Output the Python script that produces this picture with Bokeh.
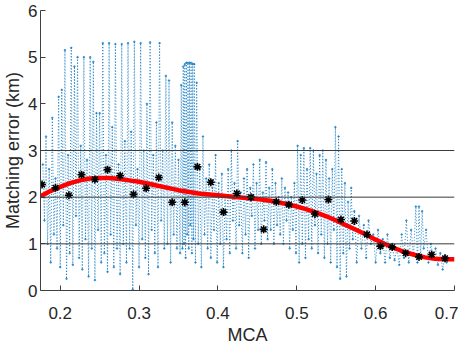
from bokeh.plotting import figure
from bokeh.models import Range1d, FixedTicker, Span
from bokeh.embed import file_html
from bokeh.resources import INLINE

# ---- blue dotted raw series (MCA, matching error) ----
mca_a = [0.178, 0.180, 0.182, 0.184, 0.186, 0.188, 0.190, 0.192, 0.194, 0.196,
         0.198, 0.200, 0.202, 0.204, 0.206, 0.208, 0.210, 0.212, 0.214, 0.216,
         0.218, 0.220, 0.222, 0.224, 0.226, 0.228, 0.230, 0.232, 0.234, 0.236,
         0.238, 0.240, 0.242, 0.244, 0.246, 0.248, 0.250, 0.252, 0.254, 0.256,
         0.258, 0.260, 0.262, 0.264, 0.266, 0.268, 0.270, 0.272, 0.274, 0.276,
         0.278, 0.280, 0.282, 0.284, 0.286, 0.288, 0.290, 0.292, 0.294, 0.296,
         0.298, 0.300, 0.302, 0.304, 0.306, 0.308, 0.310, 0.312, 0.314, 0.316,
         0.318, 0.320, 0.322, 0.324, 0.326, 0.328, 0.330, 0.332, 0.334, 0.336,
         0.338, 0.340, 0.342, 0.344, 0.346, 0.348]
err_a = [2.7, 1.5, 3.3, 1.0, 2.6, 0.6, 3.7, 1.2, 2.4, 0.9,
         4.15, 0.5, 4.3, 1.4, 5.15, 0.25, 2.9, 0.8, 5.2, 0.55,
         4.8, 1.6, 5.0, 0.7, 3.1, 0.45, 5.0, 1.1, 2.8, 0.3,
         5.0, 0.9, 4.9, 0.22, 3.8, 1.3, 3.8, 0.6, 5.3, 0.8,
         2.9, 0.4, 5.3, 1.2, 3.5, 0.5, 5.28, 0.9, 2.7, 0.35,
         5.28, 1.0, 3.2, 0.6, 5.3, 0.9, 3.4, 0.02, 5.33, 1.4,
         2.6, 0.5, 5.3, 1.1, 3.0, 0.7, 4.0, 0.35, 5.32, 1.3,
         2.9, 0.8, 3.6, 0.5, 5.3, 1.5, 3.0, 0.9, 4.6, 1.0,
         4.5, 0.6, 3.6, 1.2, 3.1, 0.9]

mca_b = [0.350, 0.352, 0.3535, 0.355, 0.356, 0.357, 0.358, 0.359, 0.360, 0.361,
         0.362, 0.363, 0.364, 0.365, 0.366, 0.367, 0.368, 0.369, 0.370, 0.3715,
         0.373, 0.375, 0.377, 0.379, 0.381, 0.383, 0.385, 0.387, 0.389, 0.391,
         0.393, 0.395, 0.397, 0.399, 0.401, 0.403, 0.405, 0.407, 0.409, 0.411,
         0.413, 0.415, 0.417, 0.419, 0.421, 0.423, 0.425, 0.427, 0.429, 0.431,
         0.433, 0.435, 0.437, 0.439, 0.441, 0.443, 0.445, 0.447, 0.449, 0.451,
         0.453, 0.455, 0.457, 0.459, 0.461, 0.463, 0.465, 0.467, 0.469, 0.471,
         0.473, 0.475, 0.477, 0.479, 0.481, 0.483, 0.485, 0.487, 0.489, 0.491,
         0.493, 0.495, 0.497, 0.499, 0.501, 0.503, 0.505, 0.507, 0.509, 0.511,
         0.513, 0.515, 0.517, 0.519, 0.521, 0.523, 0.525, 0.527, 0.529, 0.531,
         0.533, 0.535, 0.537, 0.539, 0.541, 0.543, 0.545, 0.547, 0.549]
err_b = [2.8, 0.8, 4.4, 0.9, 4.8, 1.0, 4.85, 0.7, 4.88, 1.2,
         4.88, 0.9, 4.88, 1.4, 4.88, 0.8, 4.86, 1.1, 4.85, 0.6,
         4.45, 1.0, 2.6, 0.5, 3.3, 1.2, 2.4, 0.9, 2.7, 0.7,
         2.2, 1.3, 2.9, 0.6, 2.3, 1.0, 2.5, 0.5, 2.0, 1.1,
         2.6, 0.8, 3.0, 1.5, 2.3, 0.9, 3.2, 1.4, 2.1, 0.8,
         2.4, 1.2, 2.6, 0.7, 2.2, 1.6, 2.7, 0.9, 2.3, 1.3,
         2.8, 1.0, 2.1, 1.5, 2.75, 1.1, 2.2, 1.3, 2.6, 1.0,
         2.3, 1.4, 2.0, 1.2, 2.4, 1.0, 2.2, 1.5, 2.1, 0.9,
         2.0, 1.3, 2.3, 0.8, 3.1, 0.6, 2.9, 1.0, 3.05, 0.7,
         2.6, 1.1, 3.05, 0.9, 3.0, 1.4, 2.5, 0.8, 2.9, 1.2,
         3.0, 0.7, 2.8, 1.0, 2.4, 0.6, 2.6, 1.3, 3.5]

mca_c = [0.551, 0.553, 0.555, 0.557, 0.559, 0.561, 0.563, 0.565, 0.567, 0.569,
         0.571, 0.573, 0.576, 0.579, 0.582, 0.585, 0.588, 0.591, 0.594, 0.597,
         0.600, 0.603, 0.606, 0.609, 0.612, 0.615, 0.618, 0.621, 0.624, 0.627,
         0.630, 0.633, 0.636, 0.639, 0.642, 0.645, 0.648, 0.651, 0.653, 0.655,
         0.657, 0.659, 0.661, 0.664, 0.667, 0.670, 0.673, 0.676, 0.679, 0.682,
         0.685, 0.688, 0.690]
err_c = [0.5, 3.3, 0.25, 2.6, 0.8, 2.3, 0.3, 1.9, 0.9, 2.2,
         1.1, 1.7, 0.6, 1.6, 0.9, 1.4, 0.7, 1.5, 1.0, 1.2,
         0.6, 1.3, 0.8, 1.1, 0.6, 1.2, 0.7, 1.0, 0.65, 0.9,
         0.55, 1.2, 0.7, 1.5, 0.6, 1.3, 0.75, 1.8, 0.6, 1.8,
         0.7, 1.7, 0.9, 1.3, 0.6, 1.0, 0.7, 0.9, 0.55, 0.8,
         0.45, 0.75, 0.6]

# ---- binned means (black asterisks) ----
mca_bin = [0.177, 0.194, 0.211, 0.227, 0.244, 0.260, 0.276, 0.293, 0.309, 0.325,
           0.342, 0.358, 0.374, 0.391, 0.407, 0.424, 0.442, 0.458, 0.474, 0.490,
           0.507, 0.523, 0.540, 0.556, 0.573, 0.589, 0.606, 0.621, 0.638, 0.655,
           0.671, 0.688]
err_bin = [2.27, 2.20, 2.04, 2.48, 2.38, 2.59, 2.46, 2.06, 2.19, 2.42,
           1.89, 1.89, 2.65, 2.32, 1.68, 2.08, 2.00, 1.31, 1.90, 1.84,
           1.94, 1.64, 1.95, 1.52, 1.49, 1.20, 0.95, 0.93, 0.80, 0.72,
           0.77, 0.69]

# ---- fitted curve (red) ----
mca_fit = [0.175, 0.1875, 0.200, 0.2125, 0.225, 0.2375, 0.250, 0.2625, 0.275, 0.2875,
           0.300, 0.325, 0.350, 0.375, 0.400, 0.425, 0.450, 0.475, 0.500, 0.5125,
           0.525, 0.5375, 0.550, 0.5625, 0.575, 0.5875, 0.600, 0.6125, 0.625, 0.6375,
           0.650, 0.6625, 0.675, 0.6875, 0.700]
err_fit = [2.02, 2.13, 2.22, 2.30, 2.36, 2.40, 2.41, 2.41, 2.39, 2.36,
           2.33, 2.24, 2.15, 2.08, 2.04, 2.00, 1.96, 1.90, 1.80, 1.74,
           1.67, 1.59, 1.50, 1.40, 1.30, 1.20, 1.09, 0.99, 0.90, 0.82,
           0.76, 0.71, 0.68, 0.67, 0.67]

ref_levels = [1, 2, 3]
x_ticks = [0.2, 0.3, 0.4, 0.5, 0.6, 0.7]
y_ticks = [0, 1, 2, 3, 4, 5, 6]

p = figure(width=458, height=347, output_backend="svg", toolbar_location=None,
           x_range=Range1d(0.175, 0.7), y_range=Range1d(0, 6),
           min_border_left=26, min_border_right=4, min_border_top=10,
           min_border_bottom=57)
p.outline_line_color = None
p.grid.visible = False
p.background_fill_color = "white"
p.border_fill_color = "white"

blue = "#0072BD"
mca_raw = mca_a + mca_b + mca_c
err_raw = err_a + err_b + err_c
p.line(mca_raw, err_raw, line_color=blue, line_width=1, line_dash="1 2", line_alpha=0.85)
p.scatter(mca_raw, err_raw, size=1.6, color=blue, alpha=0.6)

for lv in ref_levels:
    p.add_layout(Span(location=lv, dimension="width", line_color="#3a3a3a", line_width=1))

p.line(mca_fit, err_fit, line_color="#FF0000", line_width=4.5)
p.scatter(mca_bin, err_bin, marker="asterisk", size=8, line_color="black", line_width=1.6)

font = "Liberation Sans"
for ax in (p.xaxis, p.yaxis):
    ax.axis_line_color = "#404040"
    ax.major_tick_line_color = "#404040"
    ax.major_tick_in = 5
    ax.major_tick_out = 0
    ax.minor_tick_line_color = None
    ax.major_label_text_font = font
    ax.major_label_text_font_size = "17px"
    ax.major_label_text_color = "#262626"
    ax.axis_label_text_font = font
    ax.axis_label_text_font_size = "18px"
    ax.axis_label_text_font_style = "normal"
    ax.axis_label_text_color = "#262626"

p.xaxis.ticker = FixedTicker(ticks=x_ticks)
p.yaxis.ticker = FixedTicker(ticks=y_ticks)
p.xaxis.axis_label = "MCA"
p.yaxis.axis_label = "Matching error (km)"
p.xaxis.major_label_standoff = 16
p.xaxis.axis_label_standoff = 3
p.yaxis.major_label_standoff = 3
p.yaxis.axis_label_standoff = 2

open("out.html", "w").write(file_html(p, INLINE))
